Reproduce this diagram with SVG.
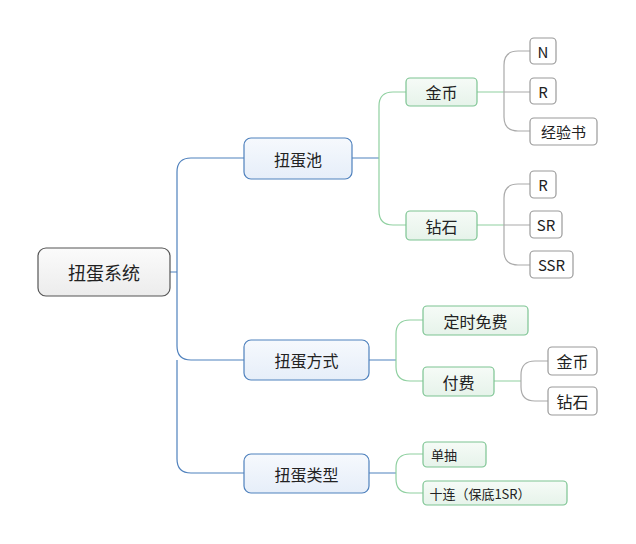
<svg xmlns="http://www.w3.org/2000/svg" width="636" height="544" viewBox="0 0 636 544">
<defs>
<linearGradient id="gr" x1="0" y1="0" x2="0" y2="1"><stop offset="0" stop-color="#fbfbfb"/><stop offset="1" stop-color="#ececec"/></linearGradient>
<linearGradient id="gb" x1="0" y1="0" x2="0" y2="1"><stop offset="0" stop-color="#f6f9fd"/><stop offset="1" stop-color="#e6eef9"/></linearGradient>
<linearGradient id="gg" x1="0" y1="0" x2="0" y2="1"><stop offset="0" stop-color="#f6fbf7"/><stop offset="1" stop-color="#e6f3ea"/></linearGradient>
</defs>
<style>
text{font-family:"Noto Sans CJK SC","Liberation Sans",sans-serif;fill:#222;text-anchor:middle;dominant-baseline:central}
.r rect{fill:url(#gr);stroke:#555;stroke-width:1.2}
.b rect{fill:url(#gb);stroke:#4f81bd;stroke-width:1.2}
.g rect{fill:url(#gg);stroke:#7cc492;stroke-width:1.2}
.w rect{fill:#fff;stroke:#9a9a9a;stroke-width:1.2}
.cb{fill:none;stroke:#4f81bd;stroke-width:1.2}
.cg{fill:none;stroke:#8fd0a0;stroke-width:1.2}
.cw{fill:none;stroke:#aaa;stroke-width:1.2}
</style>
<g id="connectors">
<path class="cb" d="M170,272H177M177,272V172Q177,158 191,158H244M177,272V346Q177,360 191,360H244M177,360V459Q177,473 191,473H244"/>
<path class="cb" d="M352,158H379M369,360H396M369,473H396"/>
<path class="cg" d="M379,158V106Q379,92 393,92H406M379,158V211Q379,225 393,225H406"/>
<path class="cg" d="M396,360V334Q396,320 410,320H423M396,360V367Q396,381 410,381H423"/>
<path class="cg" d="M396,473V468Q396,454 410,454H423M396,473V479Q396,493 410,493H423"/>
<path class="cg" d="M477,92H504M477,225H504M494,381H521"/>
<path class="cw" d="M504,92V65Q504,51 518,51H530M504,92H530M504,92V117Q504,131 518,131H530"/>
<path class="cw" d="M504,225V198Q504,184 518,184H530M504,225H530M504,225V251Q504,265 518,265H530"/>
<path class="cw" d="M521,381V375Q521,361 535,361H548M521,381V387Q521,401 535,401H548"/>
</g>
<g id="root" class="r"><rect x="38" y="248" width="132" height="48" rx="8"/><text x="104" y="272" font-size="18">扭蛋系统</text></g>
<g id="pool" class="b"><rect x="244" y="138" width="108" height="41" rx="7"/><text x="298" y="158.5" font-size="16">扭蛋池</text></g>
<g id="mode" class="b"><rect x="244" y="340" width="125" height="40" rx="7"/><text x="306.5" y="360" font-size="16">扭蛋方式</text></g>
<g id="type" class="b"><rect x="244" y="454" width="125" height="39" rx="7"/><text x="306.5" y="473.5" font-size="16">扭蛋类型</text></g>
<g id="gold" class="g"><rect x="406" y="78" width="71" height="28" rx="4"/><text x="441.5" y="92" font-size="16">金币</text></g>
<g id="diamond" class="g"><rect x="406" y="211" width="71" height="29" rx="4"/><text x="441.5" y="225.5" font-size="16">钻石</text></g>
<g id="free" class="g"><rect x="423" y="306" width="105" height="29" rx="4"/><text x="475.5" y="320.5" font-size="16">定时免费</text></g>
<g id="paid" class="g"><rect x="423" y="367" width="71" height="29" rx="4"/><text x="458.5" y="381.5" font-size="16">付费</text></g>
<g id="single" class="g"><rect x="423" y="442" width="63" height="25" rx="4"/><text x="444" y="454.5" font-size="13">单抽</text></g>
<g id="ten" class="g"><rect x="423" y="481" width="144" height="24" rx="4"/><text x="480" y="493" font-size="13">十连（保底1SR）</text></g>
<g id="n1" class="w"><rect x="530" y="38" width="26" height="26" rx="4"/><text x="543" y="51" font-size="15">N</text></g>
<g id="r1" class="w"><rect x="530" y="78" width="26" height="26" rx="4"/><text x="543" y="91" font-size="15">R</text></g>
<g id="book" class="w"><rect x="530" y="118" width="67" height="27" rx="4"/><text x="563.5" y="131.5" font-size="15">经验书</text></g>
<g id="r2" class="w"><rect x="530" y="171" width="26" height="27" rx="4"/><text x="543" y="184.5" font-size="15">R</text></g>
<g id="sr" class="w"><rect x="530" y="211" width="32" height="27" rx="4"/><text x="546" y="224.5" font-size="15">SR</text></g>
<g id="ssr" class="w"><rect x="530" y="251" width="43" height="27" rx="4"/><text x="551.5" y="264.5" font-size="15">SSR</text></g>
<g id="gold2" class="w"><rect x="548" y="347" width="49" height="28" rx="4"/><text x="572.5" y="361" font-size="16">金币</text></g>
<g id="diamond2" class="w"><rect x="548" y="387" width="49" height="28" rx="4"/><text x="572.5" y="401" font-size="16">钻石</text></g>
</svg>
